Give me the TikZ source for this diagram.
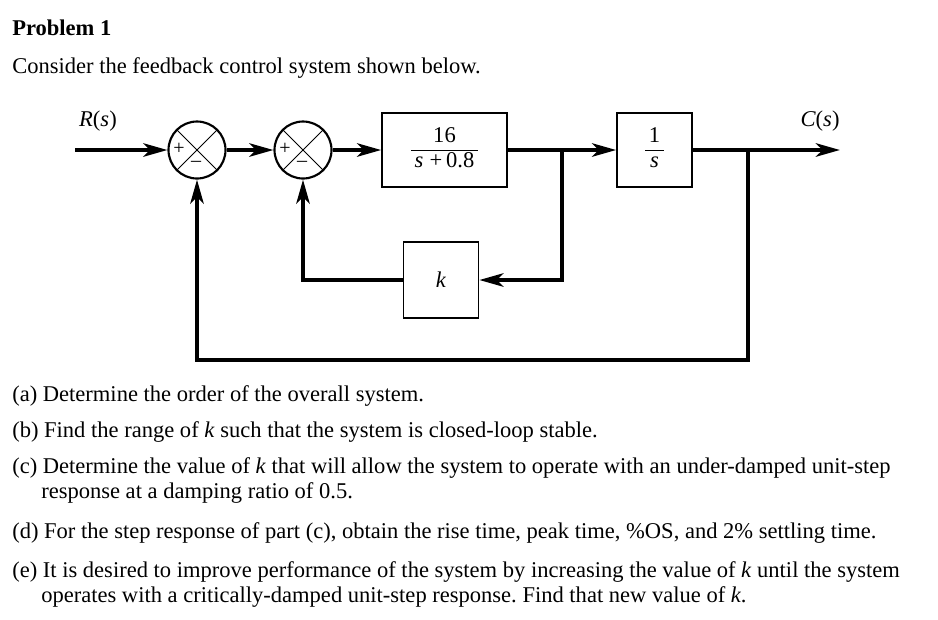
\documentclass[tikz,border=0pt]{standalone}
\usepackage{fontspec}
\setmainfont{Liberation Serif}
\usetikzlibrary{arrows.meta}
\frenchspacing

\begin{document}
\begin{tikzpicture}[x=0.75pt, y=-0.75pt,
    every node/.style={font=\fontsize{16.9}{18.75}\selectfont},
    sig/.style={line width=3.2pt},
    sigarrow/.style={sig, -{Stealth[length=18pt,width=10pt,inset=5pt]}},
    block/.style={draw, line width=1.2pt, minimum height=55.5pt, inner sep=0pt},
    sumnode/.style={draw, circle, line width=1.6pt, minimum size=42.75pt, inner sep=0pt},
    sign/.style={font=\fontsize{15}{15}\selectfont, inner sep=0pt},
    txt/.style={anchor=base west, inner sep=0pt},
    ]
    \useasboundingbox (0,0) rectangle (938,619);

    % heading
    \node[txt, font=\fontsize{16.9}{18.75}\selectfont\bfseries] (title) at (12,35) {Problem 1};
    \node[txt] (intro) at (12,73) {Consider the feedback control system shown below.};

    % block diagram
    \coordinate (rin) at (75,150);
    \node[sumnode] (s1) at (197,150) {};
    \node[sumnode] (s2) at (303,150) {};
    \node[block, minimum width=93.75pt] (g1) at (444.5,150)
        {\begin{tabular}{@{\,}c@{\,}}16\\\hline\textit{s}\;+\,0.8\end{tabular}};
    \node[block, minimum width=56.25pt] (g2) at (654.5,150)
        {\begin{tabular}{@{\,}c@{\,}}1\\\hline\textit{s}\end{tabular}};
    \node[block, minimum width=56.25pt, minimum height=57pt] (kb) at (441,280) {\textit{k}};
    \coordinate (b1) at (562,150);
    \coordinate (b2) at (748,150);
    \coordinate (c2) at (748,360);
    \coordinate (cout) at (840,150);
    \node (rlab) at (98,121) {\textit{R}(\textit{s})};
    \node (clab) at (820,121) {\textit{C}(\textit{s})};

    \draw[line width=0.7pt] (s1.north west) -- (s1.south east) (s1.north east) -- (s1.south west);
    \draw[line width=0.7pt] (s2.north west) -- (s2.south east) (s2.north east) -- (s2.south west);
    \node[sign] (p1) at (179,149) {+};
    \node[sign] (m1) at (196,164) {\textendash};
    \node[sign] (p2) at (285,149) {+};
    \node[sign] (m2) at (302,164) {\textendash};

    \draw[sigarrow] (rin) -- (s1);
    \draw[sigarrow] (s1) -- (s2);
    \draw[sigarrow] (s2) -- (g1);
    \draw[sigarrow] (g1) -- (g2);
    \draw[sigarrow] (g2) -- (cout);
    \draw[sigarrow] (b1) |- (kb.east);
    \draw[sigarrow] (kb.west) -| (s2.south);
    \draw[sigarrow] (b2) -- (c2) -| (s1.south);

    % questions
    \node[txt] (qa) at (12,401) {(a) Determine the order of the overall system.};
    \node[txt] (qb) at (12,437) {(b) Find the range of \textit{k} such that the system is closed-loop stable.};
    \node[txt] (qc) at (12,473) {(c) Determine the value of \textit{k} that will allow the system to operate with an under-damped unit-step};
    \node[txt] (qc2) at (41,498) {response at a damping ratio of 0.5.};
    \node[txt] (qd) at (12,538) {(d) For the step response of part (c), obtain the rise time, peak time, \%OS, and 2\% settling time.};
    \node[txt] (qe) at (12,577) {(e) It is desired to improve performance of the system by increasing the value of \textit{k} until the system};
    \node[txt] (qe2) at (41,602) {operates with a critically-damped unit-step response. Find that new value of \textit{k}.};
\end{tikzpicture}
\end{document}
